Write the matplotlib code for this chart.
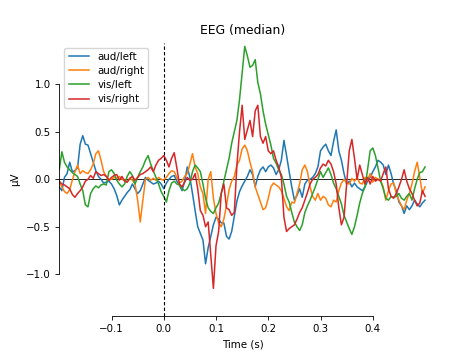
import numpy as np
import matplotlib
matplotlib.use("Agg")
import matplotlib.pyplot as plt

# sampled every 5 ms from -0.2 s
T0 = -0.2
DT = 0.005

aud_left = [
    -0.08, -0.12, 0.02, 0.06, 0.18, 0.08, 0.09, 0.12, 0.37, 0.46,
    0.37, 0.36, 0.27, 0.18, 0.09, 0.03, 0.0, -0.04, -0.03, -0.02,
    -0.05, -0.10, -0.17, -0.27, -0.22, -0.18, -0.14, -0.11, -0.05, -0.10,
    -0.15, -0.12, -0.05, 0.02, -0.01, -0.03, -0.05, -0.04, -0.02, -0.05,
    -0.10, -0.04, 0.0, 0.03, 0.04, -0.02, -0.06, -0.12, -0.02, 0.13,
    0.02, -0.15, -0.33, -0.50, -0.57, -0.64, -0.89, -0.72, -0.60, -0.48,
    -0.40, -0.42, -0.46, -0.46, -0.60, -0.63, -0.55, -0.39, -0.23, -0.13,
    -0.07, -0.02, 0.03, 0.10, 0.05, -0.08, 0.03, 0.10, 0.13, 0.08,
    0.13, 0.15, 0.12, 0.05, 0.10, 0.20, 0.41, 0.25, 0.08, -0.08,
    -0.22, -0.17, -0.10, -0.19, -0.05, -0.01, 0.0, 0.02, 0.06, 0.13,
    0.30, 0.34, 0.37, 0.30, 0.25, 0.40, 0.52, 0.30, 0.20, 0.06,
    -0.05, -0.02, -0.08, -0.04, -0.08, -0.10, -0.12, -0.08, -0.02, 0.02,
    0.08, 0.13, 0.20, 0.18, 0.15, 0.05, 0.15, 0.06, -0.05, -0.12,
    -0.24, -0.28, -0.36, -0.28, -0.32, -0.28, -0.22, -0.26, -0.29, -0.25,
    -0.22,
]

aud_right = [
    -0.03, -0.08, -0.13, -0.15, -0.11, -0.01, 0.08, 0.15, 0.06, 0.09,
    0.07, 0.06, 0.10, 0.16, 0.27, 0.30, 0.20, 0.08, 0.03, -0.01,
    0.0, 0.02, 0.01, 0.03, 0.0, -0.01, -0.03, 0.01, -0.01, -0.05,
    -0.22, -0.45, -0.22, 0.0, 0.02, -0.01, 0.01, -0.01, 0.02, 0.0,
    -0.01, 0.02, 0.06, 0.09, 0.08, 0.02, -0.04, -0.02, 0.03, 0.06,
    0.16, 0.27, 0.13, 0.06, -0.08, -0.15, -0.36, 0.0, 0.08, -0.20,
    -0.36, -0.46, -0.50, -0.42, -0.28, -0.11, -0.02, 0.03, 0.15, 0.20,
    0.32, 0.36, 0.30, 0.18, 0.08, -0.08, -0.16, -0.24, -0.32, -0.30,
    -0.20, -0.08, -0.04, -0.06, -0.08, -0.12, -0.20, -0.29, -0.33, -0.24,
    -0.25, -0.15, -0.05, 0.10, 0.15, 0.08, -0.08, -0.18, -0.22, -0.15,
    -0.22, -0.18, -0.20, -0.27, -0.29, -0.22, -0.24, -0.12, -0.04, 0.0,
    -0.04, -0.05, 0.01, -0.02, 0.02, -0.04, -0.05, 0.02, -0.01, 0.06,
    -0.03, 0.02, 0.0, -0.01, -0.08, -0.22, -0.12, -0.05, -0.04, -0.15,
    -0.22, -0.28, -0.32, -0.22, -0.15, -0.05, 0.08, 0.18, 0.02, -0.15,
    -0.08,
]

vis_left = [
    0.10, 0.29, 0.18, 0.13, 0.10, 0.07, 0.05, 0.03, -0.05, -0.12,
    -0.27, -0.29, -0.15, -0.10, -0.07, -0.09, -0.06, -0.05, -0.06, 0.08,
    0.10, 0.06, -0.01, -0.05, -0.08, -0.05, 0.03, 0.08, 0.04, -0.05,
    0.02, 0.08, 0.13, 0.20, 0.25, 0.16, 0.09, 0.02, -0.05, -0.13,
    -0.18, -0.24, -0.12, -0.04, -0.02, -0.05, -0.06, -0.10, -0.12, -0.10,
    -0.04, 0.08, 0.15, 0.12, 0.08, -0.05, -0.20, -0.30, -0.34, -0.36,
    -0.30, -0.25, -0.15, -0.02, 0.10, 0.22, 0.38, 0.50, 0.62, 0.84,
    1.12, 1.40, 1.30, 1.18, 1.20, 1.26, 1.02, 0.90, 0.72, 0.58,
    0.47, 0.36, 0.22, 0.17, 0.10, 0.05, -0.05, -0.18, -0.24, -0.35,
    -0.45, -0.50, -0.54, -0.48, -0.35, -0.28, -0.22, -0.15, -0.08, 0.0,
    0.08, 0.02, 0.07, 0.12, 0.05, -0.04, -0.10, -0.18, -0.26, -0.38,
    -0.45, -0.52, -0.58, -0.50, -0.38, -0.25, -0.15, -0.08, 0.10, 0.30,
    0.33, 0.25, 0.12, -0.02, -0.10, -0.20, -0.22, -0.18, -0.19, -0.18,
    -0.15, -0.20, -0.22, -0.18, -0.15, -0.22, -0.10, 0.0, 0.07, 0.08,
    0.13,
]

vis_right = [
    -0.02, -0.05, -0.06, -0.08, -0.10, -0.16, -0.19, -0.15, -0.12, -0.08,
    -0.02, 0.0, 0.04, 0.01, 0.08, 0.06, 0.04, 0.05, 0.03, -0.01,
    0.02, 0.04, 0.05, -0.01, 0.03, -0.02, -0.03, 0.01, 0.03, -0.01,
    0.02, 0.05, 0.06, 0.08, 0.10, 0.13, 0.08, 0.15, 0.20, 0.22,
    0.25, 0.20, 0.13, 0.22, 0.28, 0.12, -0.05, -0.08, -0.03, 0.02,
    -0.01, 0.0, 0.06, -0.10, -0.33, -0.38, -0.50, -0.45, -0.80, -1.15,
    -0.70, -0.55, -0.15, -0.05, -0.30, -0.32, -0.38, -0.35, 0.15, 0.50,
    0.78, 0.42, 0.52, 0.62, 0.45, 0.72, 0.78, 0.45, 0.38, 0.45,
    0.30, 0.27, 0.30, 0.20, 0.13, 0.02, -0.40, -0.55, -0.52, -0.50,
    -0.48, -0.42, -0.35, -0.30, -0.22, -0.14, -0.05, 0.0, 0.02, 0.05,
    0.12, 0.16, 0.14, 0.20, 0.16, 0.08, -0.05, -0.30, -0.48, -0.40,
    -0.05, 0.30, 0.42, 0.22, 0.0, 0.15, 0.05, -0.05, 0.02, -0.05,
    0.03, -0.02, 0.0, -0.02, 0.06, 0.13, -0.10, -0.18, -0.20, -0.15,
    -0.08, 0.0, 0.10, -0.02, -0.10, -0.15, -0.22, -0.28, -0.25, -0.12,
    -0.18,
]

conditions = ["aud/left", "aud/right", "vis/left", "vis/right"]
series = [aud_left, aud_right, vis_left, vis_right]
colors = ["#1f77b4", "#ff7f0e", "#2ca02c", "#d62728"]
xticks = [-0.1, 0.0, 0.1, 0.2, 0.3, 0.4]
yticks = [-1.0, -0.5, 0.0, 0.5, 1.0]

fs = 7.4
fig, ax = plt.subplots(figsize=(4.74, 3.55), dpi=100)

for name, vals, c in zip(conditions, series, colors):
    t = T0 + DT * np.arange(len(vals))
    ax.plot(t, vals, color=c, lw=1.1, label=name)

ax.axhline(0, color="black", lw=0.6, zorder=1)
ax.axvline(0, color="black", lw=0.8, ls=(0, (3, 2)))

ax.set_xlim(-0.2, 0.503)
ax.set_ylim(-1.44, 1.44)
ax.set_xticks(xticks)
ax.set_yticks(yticks)
ax.tick_params(labelsize=fs, length=2.6, width=0.6)
ax.spines["top"].set_visible(False)
ax.spines["right"].set_visible(False)
ax.spines["left"].set_bounds(-1.0, 1.0)
ax.spines["bottom"].set_bounds(-0.1, 0.4)
for s in ("left", "bottom"):
    ax.spines[s].set_linewidth(0.6)

ax.set_title("EEG (median)", fontsize=8.9)
ax.set_xlabel("Time (s)", fontsize=fs)
ax.set_ylabel("µV", fontsize=fs)
ax.legend(loc="upper left", fontsize=fs, handlelength=2.0, borderpad=0.4,
          labelspacing=0.4, framealpha=0.8)

fig.savefig("out.png", dpi=100)
